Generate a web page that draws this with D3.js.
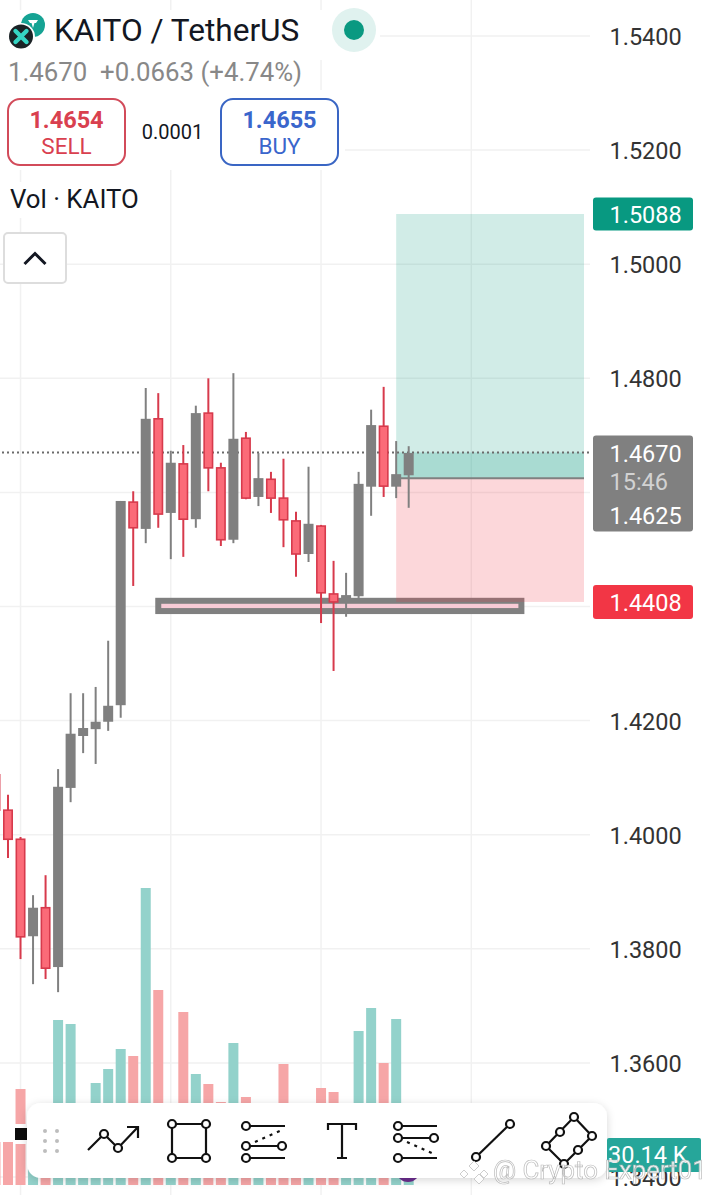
<!DOCTYPE html>
<html>
<head>
<meta charset="utf-8">
<script src="https://cdn.jsdelivr.net/npm/d3@7/dist/d3.min.js"></script>
<style>
html, body { margin: 0; padding: 0; background: #fff; }
svg { display: block; font-family: Roboto, sans-serif; }
</style>
</head>
<body>
<svg id="svg" width="711" height="1195"></svg>
<script>
// bar numbers, first bar is cut off by the left edge
var bars = [-1,0,1,2,3,4,5,6,7,8,9,10,11,12,13,14,15,16,17,18,19,20,21,22,23,24,25,26,27,28,29,30,31,32];
var opens = [1.4105,1.4043,1.3992,1.3822,1.3872,1.3768,1.4082,1.4173,1.4185,1.4198,1.4227,1.4583,1.4536,1.4729,1.4564,1.4650,1.4553,1.4739,1.4643,1.4517,1.4695,1.4592,1.4623,1.4590,1.4550,1.4492,1.4541,1.4422,1.4408,1.4418,1.4610,1.4716,1.4610,1.4630];
var highs = [1.4115,1.4070,1.3996,1.3894,1.3929,1.4115,1.4248,1.4248,1.4259,1.4340,1.4585,1.4602,1.4783,1.4774,1.4673,1.4683,1.4752,1.4800,1.4652,1.4809,1.4706,1.4669,1.4636,1.4659,1.4566,1.4645,1.4543,1.4480,1.4459,1.4636,1.4745,1.4785,1.4690,1.4681];
var lows = [1.4030,1.3959,1.3782,1.3738,1.3747,1.3724,1.4057,1.4143,1.4124,1.4182,1.4205,1.4436,1.4511,1.4538,1.4483,1.4487,1.4538,1.4602,1.4506,1.4511,1.4588,1.4576,1.4564,1.4504,1.4452,1.4478,1.4371,1.4287,1.4382,1.4415,1.4559,1.4592,1.4590,1.4573];
var closes = [1.4043,1.3992,1.3821,1.3872,1.3766,1.4084,1.4177,1.4187,1.4198,1.4226,1.4585,1.4538,1.4729,1.4562,1.4652,1.4553,1.4739,1.4643,1.4517,1.4694,1.4590,1.4625,1.4590,1.4552,1.4492,1.4545,1.4424,1.4408,1.4420,1.4615,1.4718,1.4611,1.4632,1.4669];
var volumes = [43,43,96,40,35,165,161,60,102,116,136,129,297,195,50,173,111,101,83,142,88,40,35,121,60,50,97,93,70,154,177,122,166,30.14];

var priceTicks = [1.54,1.52,1.50,1.48,1.46,1.44,1.42,1.40,1.38,1.36,1.34];
// 1.46 and 1.44 sit behind the price tags, so they get no label
var labelledTicks = [1.54,1.52,1.50,1.48,1.42,1.40,1.38,1.36,1.34];
var timeGridBars = [1,13,25,37];

var lastPrice = 1.4670;
var entryPrice = 1.4625;
var targetPrice = 1.5088;
var stopPrice = 1.4408;
var positionBars = [31,46];
var zoneBars = [12,41];
var zonePrices = [1.4410,1.4392];

var svg = d3.select("#svg");

var x = d3.scaleLinear().domain([0,46]).range([8,584]);
var y = d3.scaleLinear().domain([1.54,1.34]).range([36,1177]);
var volY = d3.scaleLinear().domain([0,297]).range([1185,888]);
var fmt = d3.format(".4f");

var gray = "#808080", redFill = "#fb6b78", redLine = "#d73a4c";
var candles = bars.map(function(b,i) {
  return {bar:b, o:opens[i], h:highs[i], l:lows[i], c:closes[i], v:volumes[i], up:closes[i] >= opens[i]};
});

// grid
svg.append("g").selectAll("line").data(priceTicks).enter().append("line")
  .attr("x1",0).attr("x2",590)
  .attr("y1",y).attr("y2",y)
  .attr("stroke","#f1f1f1").attr("stroke-width",1.5);
svg.append("g").selectAll("line").data(timeGridBars).enter().append("line")
  .attr("x1",x).attr("x2",x)
  .attr("y1",0).attr("y2",1195)
  .attr("stroke","#f1f1f1").attr("stroke-width",1.5);

// volume
svg.append("g").selectAll("rect").data(candles).enter().append("rect")
  .attr("x",function(d){return x(d.bar)-5;})
  .attr("width",10)
  .attr("y",function(d){return volY(d.v);})
  .attr("height",function(d){return volY(0)-volY(d.v);})
  .attr("fill",function(d){return d.up ? "#93d2cb" : "#f6a6a7";});

// drawn zone
svg.append("rect")
  .attr("x",x(zoneBars[0])).attr("width",x(zoneBars[1])-x(zoneBars[0]))
  .attr("y",y(zonePrices[0])).attr("height",y(zonePrices[1])-y(zonePrices[0]))
  .attr("fill","#f8cbd6").attr("stroke",gray).attr("stroke-width",6);

// long position
var posX = x(positionBars[0]), posW = x(positionBars[1])-x(positionBars[0]);
svg.append("rect").attr("x",posX).attr("width",posW)
  .attr("y",y(targetPrice)).attr("height",y(entryPrice)-y(targetPrice))
  .attr("fill","rgba(8,153,129,0.19)");
svg.append("rect").attr("x",posX).attr("width",posW)
  .attr("y",y(lastPrice)).attr("height",y(entryPrice)-y(lastPrice))
  .attr("fill","rgba(8,153,129,0.2)");
svg.append("rect").attr("x",posX).attr("width",posW)
  .attr("y",y(entryPrice)).attr("height",y(stopPrice)-y(entryPrice))
  .attr("fill","rgba(242,54,69,0.2)");
svg.append("line").attr("x1",posX).attr("x2",posX+posW)
  .attr("y1",y(entryPrice)).attr("y2",y(entryPrice))
  .attr("stroke",gray).attr("stroke-width",2);

// last price line
svg.append("line").attr("x1",2).attr("x2",592)
  .attr("y1",y(lastPrice)).attr("y2",y(lastPrice))
  .attr("stroke","#6a6a6a").attr("stroke-width",2).attr("stroke-dasharray","2 3");

// candles
var candle = svg.append("g").selectAll("g").data(candles).enter().append("g");
candle.append("line")
  .attr("x1",function(d){return x(d.bar);}).attr("x2",function(d){return x(d.bar);})
  .attr("y1",function(d){return y(d.h);}).attr("y2",function(d){return y(d.l);})
  .attr("stroke",function(d){return d.up ? gray : redLine;}).attr("stroke-width",2);
candle.append("rect")
  .attr("x",function(d){return x(d.bar)-(d.up ? 5 : 4.2);})
  .attr("width",function(d){return d.up ? 10 : 8.4;})
  .attr("y",function(d){return y(Math.max(d.o,d.c));})
  .attr("height",function(d){return Math.abs(y(d.o)-y(d.c));})
  .attr("fill",function(d){return d.up ? gray : redFill;})
  .attr("stroke",function(d){return d.up ? "none" : redLine;})
  .attr("stroke-width",1.6);

// white masks behind the legend
var masks = [[0,10,380,50],[0,60,312,30],[0,90,345,80],[0,182,146,36]];
svg.append("g").selectAll("rect").data(masks).enter().append("rect")
  .attr("x",function(d){return d[0];}).attr("y",function(d){return d[1];})
  .attr("width",function(d){return d[2];}).attr("height",function(d){return d[3];})
  .attr("fill","#fff");

// price axis
var axis = d3.axisRight(y).tickValues(labelledTicks).tickFormat(fmt).tickSize(0).tickPadding(0);
var axisG = svg.append("g").attr("transform","translate(609.5,1)").call(axis);
axisG.select(".domain").remove();
axisG.selectAll("text").attr("font-family","Roboto, sans-serif").attr("font-size",23.5).attr("fill","#333");

// price tags
function tag(bg, x0, y0, w, h) {
  svg.append("rect").attr("x",x0).attr("y",y0).attr("width",w).attr("height",h).attr("rx",3).attr("fill",bg);
}
function tagText(str, yy, col) {
  svg.append("text").attr("x",609.5).attr("y",yy+1).attr("dy","0.35em")
    .attr("font-size",23.5).attr("fill",col).text(str);
}
tag("#089981",593,y(targetPrice)-16.5,100,33);
tagText(fmt(targetPrice),y(targetPrice),"#fff");
tag("#f23645",593,y(stopPrice)-17,100,34);
tagText(fmt(stopPrice),y(stopPrice),"#fff");
tag(gray,593,y(lastPrice)-17,100,96);
tagText(fmt(lastPrice),y(lastPrice),"#fff");
tagText("15:46",481,"#d2d2d2");
tagText(fmt(entryPrice),y(entryPrice)+37,"#fff");

// legend
svg.append("circle").attr("cx",33).attr("cy",25).attr("r",12).attr("fill","#16a394");
svg.append("path").attr("d","M28 20H38L36 23H34.5L33 28L31.5 23H30Z").attr("fill","#fff");
svg.append("circle").attr("cx",21).attr("cy",37).attr("r",14).attr("fill","#fff");
svg.append("circle").attr("cx",21).attr("cy",36.5).attr("r",12).attr("fill","#1b2326");
svg.append("path").attr("d","M15.5 31L26.5 42M26.5 31L15.5 42")
  .attr("stroke","#35d6c4").attr("stroke-width",4.4).attr("stroke-linecap","round");
svg.append("text").attr("x",54).attr("y",41).attr("font-size",31.6).attr("fill","#131722").text("KAITO / TetherUS");
svg.append("text").attr("x",8).attr("y",81).attr("font-size",25.8).attr("fill","#888").attr("xml:space","preserve").text("1.4670  +0.0663 (+4.74%)");
svg.append("circle").attr("cx",354).attr("cy",30).attr("r",22).attr("fill","#e0f2ef");
svg.append("circle").attr("cx",354).attr("cy",30).attr("r",10).attr("fill","#0a9981");

function tradeButton(x0, col, colLine, price, word) {
  svg.append("rect").attr("x",x0).attr("y",99).attr("width",117).attr("height",66).attr("rx",12)
    .attr("fill","#fff").attr("stroke",colLine).attr("stroke-width",2);
  svg.append("text").attr("x",x0+58.5).attr("y",128).attr("text-anchor","middle")
    .attr("font-size",23.5).attr("font-weight",700).attr("fill",col).text(price);
  svg.append("text").attr("x",x0+58.5).attr("y",154).attr("text-anchor","middle")
    .attr("font-size",22.5).attr("fill",col).text(word);
}
tradeButton(8,"#d9404f","#d24b5a","1.4654","SELL");
tradeButton(221,"#3a66cc","#3a66c4","1.4655","BUY");
svg.append("text").attr("x",172.5).attr("y",139).attr("text-anchor","middle").attr("font-size",20).attr("fill","#131722").text("0.0001");
svg.append("text").attr("x",10).attr("y",208).attr("font-size",25.8).attr("fill","#131722").text("Vol · KAITO");

svg.append("rect").attr("x",4).attr("y",233).attr("width",62).attr("height",50).attr("rx",4)
  .attr("fill","#fff").attr("stroke","#ddd").attr("stroke-width",2);
svg.append("path").attr("d","M24.5 264L35 253.5L45.5 264").attr("fill","none").attr("stroke","#131722").attr("stroke-width",3);

// purple circle and black square under the toolbar
svg.append("circle").attr("cx",408).attr("cy",1170).attr("r",12).attr("fill","#6b2d8e");
svg.append("rect").attr("x",15).attr("y",1124).attr("width",12).attr("height",20).attr("fill","#fff");
svg.append("rect").attr("x",15).attr("y",1128).attr("width",12).attr("height",12).attr("fill","#0c0c0c");

// toolbar
var defs = svg.append("defs");
var shadow = defs.append("filter").attr("id","shadow").attr("x","-5%").attr("y","-30%").attr("width","110%").attr("height","160%");
shadow.append("feDropShadow").attr("dx",0).attr("dy",2).attr("stdDeviation",4).attr("flood-color","#000").attr("flood-opacity",0.16);
svg.append("rect").attr("x",27).attr("y",1103).attr("width",580).attr("height",75).attr("rx",14)
  .attr("fill","#fff").attr("filter","url(#shadow)");

var gripDots = [[45,1131],[57,1131],[45,1141],[57,1141],[45,1151],[57,1151]];
svg.append("g").selectAll("circle").data(gripDots).enter().append("circle")
  .attr("cx",function(d){return d[0];}).attr("cy",function(d){return d[1];}).attr("r",2)
  .attr("fill","#bdbdbd");

var icons = svg.append("g").attr("fill","none").attr("stroke","#111").attr("stroke-width",2.2);
var iconLines = [
  "M88 1150L104 1134L118 1148L138 1127M127 1127H138V1138",
  "M172 1124H206V1158H172Z",
  "M246 1126H285M246 1146H282M246 1158H285",
  "M328 1130V1124H356V1130M342 1124V1158M337 1158H347",
  "M398 1126H437M398 1138H434M398 1158H437",
  "M476 1157L510 1124",
  "M574 1117L592 1136L564 1164L546 1146Z"
];
iconLines.forEach(function(d) { icons.append("path").attr("d",d); });
icons.append("path").attr("d","M255 1142L282 1130").attr("stroke-dasharray","3 5");
icons.append("path").attr("d","M407 1142L434 1154").attr("stroke-dasharray","3 5");
var handles = [[104,1134],[118,1148],[172,1124],[206,1124],[172,1158],[206,1158],
  [246,1126],[246,1146],[282,1146],[246,1158],[398,1126],[398,1138],[434,1138],[398,1158],
  [476,1157],[510,1124],[574,1117],[560,1132],[592,1136],[546,1146],[578,1150],[564,1164]];
icons.selectAll("circle").data(handles).enter().append("circle")
  .attr("cx",function(d){return d[0];}).attr("cy",function(d){return d[1];}).attr("r",4)
  .attr("fill","#fff");

// volume tag
svg.append("rect").attr("x",607).attr("y",1138).attr("width",94).attr("height",34).attr("rx",2).attr("fill","#26a69a");
svg.append("text").attr("x",608).attr("y",1155).attr("dy","0.35em").attr("font-size",23.5).attr("fill","#fff").text("30.14 K");

// watermark
var wm = svg.append("g").attr("opacity",0.9);
wm.selectAll("path").data(["M474 1161l5 5l-5 5l-5 -5z","M464 1170l4 4l-4 4l-4 -4z","M484 1170l4 4l-4 4l-4 -4z","M474 1179l5 -5l5 5l-5 5l-5 -5z"])
  .enter().append("path").attr("d",function(d){return d;})
  .attr("fill","#fff").attr("stroke","#c9c9c9").attr("stroke-width",1);
wm.append("text").attr("x",493).attr("y",1179).attr("font-size",25.8)
  .attr("fill","#fff").attr("stroke","#b5b5b5").attr("stroke-width",0.7).text("@ Crypto Expert01");
</script>
</body>
</html>
